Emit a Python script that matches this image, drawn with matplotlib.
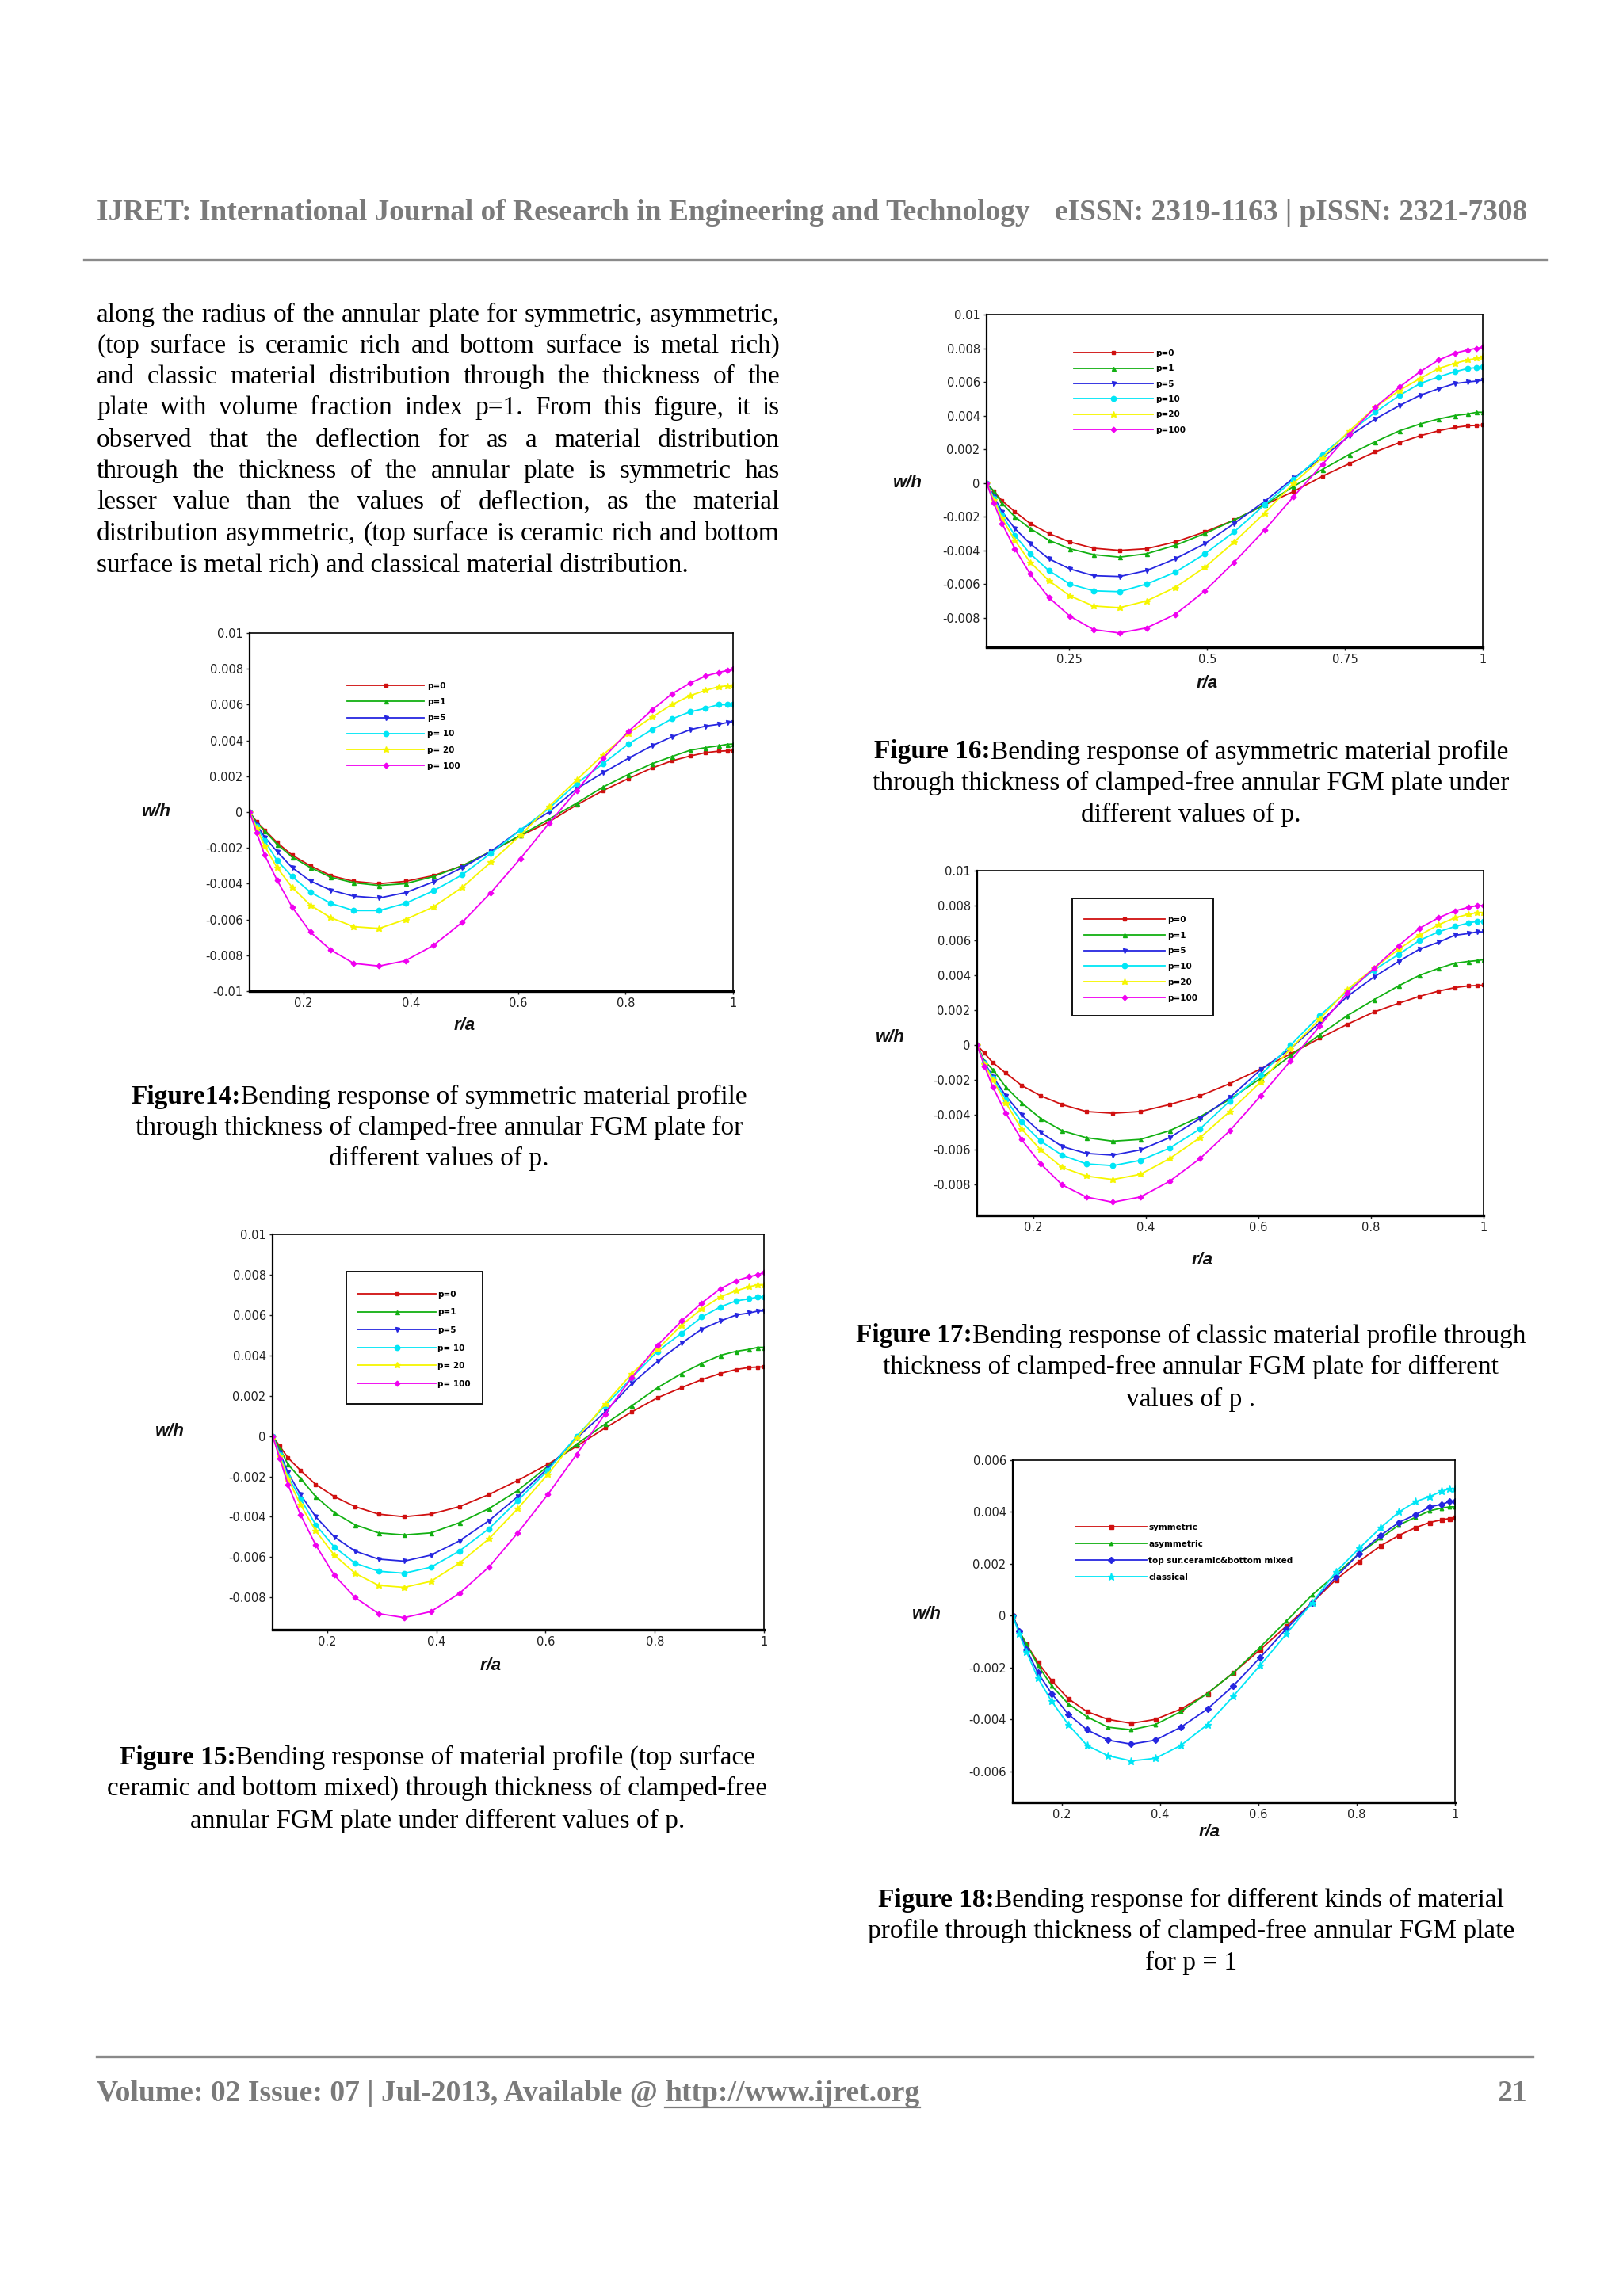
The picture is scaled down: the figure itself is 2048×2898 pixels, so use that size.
import numpy as np
import matplotlib
matplotlib.use("Agg")
import matplotlib.pyplot as plt
from matplotlib.lines import Line2D
from matplotlib.patches import Rectangle

# ---------------------------------------------------------------- data
# radial positions r/a of the plotted points
R_A = [0.1, 0.113, 0.128, 0.151, 0.179, 0.213, 0.251, 0.294, 0.341, 0.390, 0.442, 0.496,
       0.549, 0.604, 0.657, 0.709, 0.758, 0.805, 0.849, 0.886, 0.920, 0.949, 0.973, 0.989, 1.0]
WH_UNIT = 1e-3  # the w/h values below are written in units of 1e-3

# Figure 14 : symmetric profile
F14_P0 = [0, -0.54, -1.0, -1.7, -2.4, -3.0, -3.55, -3.87, -4.0, -3.87, -3.55, -3.0, -2.2, -1.33, -0.55, 0.4, 1.2, 1.87, 2.46, 2.86, 3.13, 3.32, 3.4, 3.42, 3.45]
F14_P1 = [0, -0.6, -1.05, -1.8, -2.5, -3.1, -3.64, -3.95, -4.1, -4.0, -3.6, -3.0, -2.2, -1.3, -0.4, 0.5, 1.4, 2.1, 2.7, 3.1, 3.45, 3.6, 3.7, 3.78, 3.8]
F14_P5 = [0, -0.7, -1.4, -2.2, -3.1, -3.85, -4.36, -4.7, -4.8, -4.5, -3.9, -3.1, -2.2, -1.0, 0.0, 1.3, 2.2, 3.0, 3.7, 4.2, 4.6, 4.8, 4.9, 5.0, 5.0]
F14_P10 = [0, -0.8, -1.6, -2.7, -3.6, -4.47, -5.1, -5.5, -5.5, -5.1, -4.4, -3.5, -2.3, -1.0, 0.2, 1.6, 2.7, 3.8, 4.6, 5.2, 5.6, 5.8, 6.0, 6.0, 6.0]
F14_P20 = [0, -0.9, -1.9, -3.1, -4.2, -5.2, -5.9, -6.4, -6.5, -6.0, -5.3, -4.2, -2.8, -1.3, 0.3, 1.8, 3.2, 4.4, 5.3, 6.0, 6.5, 6.8, 7.0, 7.05, 7.1]
F14_P100 = [0, -1.15, -2.4, -3.8, -5.3, -6.7, -7.7, -8.45, -8.6, -8.3, -7.45, -6.15, -4.5, -2.6, -0.64, 1.2, 3.0, 4.5, 5.7, 6.6, 7.2, 7.6, 7.8, 7.9, 8.0]

# Figure 16 : asymmetric profile
F16_P0 = [0, -0.5, -1.05, -1.7, -2.4, -3.0, -3.5, -3.87, -4.0, -3.9, -3.5, -2.9, -2.2, -1.3, -0.5, 0.4, 1.15, 1.85, 2.4, 2.8, 3.1, 3.3, 3.4, 3.42, 3.45]
F16_P1 = [0, -0.5, -1.2, -2.0, -2.7, -3.4, -3.9, -4.25, -4.4, -4.2, -3.7, -3.0, -2.2, -1.3, -0.2, 0.8, 1.7, 2.45, 3.1, 3.5, 3.8, 4.0, 4.1, 4.2, 4.2]
F16_P5 = [0, -0.8, -1.7, -2.7, -3.6, -4.5, -5.1, -5.5, -5.55, -5.2, -4.5, -3.6, -2.4, -1.1, 0.3, 1.5, 2.8, 3.8, 4.6, 5.2, 5.6, 5.9, 6.0, 6.05, 6.1]
F16_P10 = [0, -0.9, -1.9, -3.1, -4.2, -5.2, -6.0, -6.4, -6.45, -6.0, -5.3, -4.2, -2.9, -1.3, 0.2, 1.7, 3.0, 4.2, 5.2, 5.9, 6.3, 6.6, 6.8, 6.85, 6.9]
F16_P20 = [0, -1.0, -2.1, -3.4, -4.7, -5.8, -6.7, -7.3, -7.4, -7.0, -6.2, -5.0, -3.5, -1.8, 0.0, 1.5, 3.1, 4.5, 5.5, 6.2, 6.8, 7.1, 7.3, 7.4, 7.5]
F16_P100 = [0, -1.2, -2.4, -3.9, -5.4, -6.8, -7.9, -8.7, -8.9, -8.6, -7.8, -6.4, -4.7, -2.8, -0.8, 1.1, 2.9, 4.5, 5.7, 6.6, 7.3, 7.7, 7.9, 8.0, 8.05]

# Figure 15 : top surface ceramic, bottom mixed
F15_P0 = [0, -0.5, -1.07, -1.7, -2.4, -3.0, -3.5, -3.87, -4.0, -3.87, -3.5, -2.9, -2.2, -1.4, -0.5, 0.4, 1.2, 1.9, 2.4, 2.8, 3.1, 3.3, 3.4, 3.42, 3.43]
F15_P1 = [0, -0.6, -1.4, -2.1, -3.0, -3.8, -4.4, -4.8, -4.9, -4.8, -4.3, -3.6, -2.7, -1.5, -0.4, 0.6, 1.5, 2.4, 3.1, 3.6, 4.0, 4.2, 4.3, 4.4, 4.4]
F15_P5 = [0, -0.8, -1.8, -2.9, -4.0, -5.0, -5.7, -6.1, -6.2, -5.9, -5.2, -4.2, -3.0, -1.6, -0.1, 1.2, 2.6, 3.7, 4.6, 5.3, 5.7, 6.0, 6.1, 6.2, 6.2]
F15_P10 = [0, -0.9, -2.0, -3.1, -4.4, -5.5, -6.3, -6.7, -6.8, -6.5, -5.7, -4.6, -3.2, -1.7, 0.0, 1.5, 2.9, 4.2, 5.1, 5.9, 6.4, 6.7, 6.8, 6.9, 6.9]
F15_P20 = [0, -1.0, -2.1, -3.4, -4.7, -5.9, -6.8, -7.4, -7.5, -7.2, -6.3, -5.1, -3.6, -1.9, -0.1, 1.6, 3.1, 4.3, 5.5, 6.3, 6.9, 7.2, 7.4, 7.5, 7.5]
F15_P100 = [0, -1.1, -2.4, -3.9, -5.4, -6.9, -8.0, -8.8, -9.0, -8.7, -7.8, -6.5, -4.8, -2.9, -0.9, 1.1, 2.9, 4.5, 5.7, 6.6, 7.3, 7.7, 7.9, 8.0, 8.1]

# Figure 17 : classic profile
F17_P0 = [0, -0.46, -1.0, -1.6, -2.3, -2.9, -3.4, -3.8, -3.9, -3.8, -3.4, -2.9, -2.2, -1.36, -0.5, 0.4, 1.2, 1.9, 2.4, 2.8, 3.1, 3.3, 3.4, 3.42, 3.45]
F17_P1 = [0, -0.9, -1.4, -2.4, -3.3, -4.2, -4.9, -5.3, -5.5, -5.4, -4.9, -4.1, -3.1, -1.9, -0.6, 0.6, 1.7, 2.6, 3.4, 4.0, 4.4, 4.7, 4.8, 4.85, 4.9]
F17_P5 = [0, -1.0, -1.8, -2.9, -4.0, -5.0, -5.8, -6.2, -6.3, -6.0, -5.3, -4.2, -3.0, -1.4, -0.2, 1.3, 2.8, 3.9, 4.8, 5.5, 5.9, 6.3, 6.4, 6.5, 6.5]
F17_P10 = [0, -1.05, -1.9, -3.1, -4.4, -5.5, -6.3, -6.8, -6.9, -6.6, -5.9, -4.8, -3.2, -1.7, 0.0, 1.7, 3.1, 4.3, 5.2, 6.0, 6.5, 6.8, 7.0, 7.1, 7.1]
F17_P20 = [0, -1.1, -2.0, -3.3, -4.8, -6.0, -7.0, -7.5, -7.7, -7.4, -6.5, -5.3, -3.8, -2.1, -0.2, 1.5, 3.2, 4.4, 5.5, 6.3, 6.9, 7.3, 7.5, 7.6, 7.6]
F17_P100 = [0, -1.2, -2.4, -3.9, -5.4, -6.8, -8.0, -8.7, -9.0, -8.7, -7.8, -6.5, -4.9, -2.9, -0.9, 1.1, 3.0, 4.4, 5.7, 6.7, 7.3, 7.7, 7.9, 8.0, 8.0]

# Figure 18 : different profiles, p = 1
F18_SYM = [0, -0.6, -1.1, -1.8, -2.5, -3.2, -3.7, -4.0, -4.15, -4.0, -3.6, -3.0, -2.2, -1.3, -0.4, 0.5, 1.4, 2.1, 2.7, 3.1, 3.4, 3.6, 3.7, 3.75, 3.8]
F18_ASYM = [0, -0.6, -1.1, -1.9, -2.7, -3.4, -3.9, -4.3, -4.4, -4.2, -3.7, -3.0, -2.2, -1.2, -0.2, 0.8, 1.6, 2.4, 3.0, 3.5, 3.8, 4.05, 4.15, 4.2, 4.2]
F18_TOP = [0, -0.6, -1.3, -2.2, -3.0, -3.8, -4.4, -4.8, -4.95, -4.8, -4.3, -3.6, -2.7, -1.6, -0.5, 0.5, 1.5, 2.4, 3.1, 3.6, 3.9, 4.2, 4.3, 4.4, 4.4]
F18_CLASS = [0, -0.7, -1.4, -2.4, -3.3, -4.2, -5.0, -5.4, -5.6, -5.5, -5.0, -4.2, -3.1, -1.9, -0.7, 0.5, 1.7, 2.6, 3.4, 4.0, 4.4, 4.6, 4.8, 4.9, 4.9]

LABELS_A = ["p=0", "p=1", "p=5", "p= 10", "p= 20", "p= 100"]
LABELS_B = ["p=0", "p=1", "p=5", "p=10", "p=20", "p=100"]
LABELS_18 = ["symmetric", "asymmetric", "top sur.ceramic&bottom mixed", "classical"]

YT_10 = [-0.01, -0.008, -0.006, -0.004, -0.002, 0, 0.002, 0.004, 0.006, 0.008, 0.01]
YL_10 = ["-0.01", "-0.008", "-0.006", "-0.004", "-0.002", "0", "0.002", "0.004", "0.006", "0.008", "0.01"]
YT_8 = YT_10[1:]
YL_8 = YL_10[1:]
YT_6 = [-0.006, -0.004, -0.002, 0, 0.002, 0.004, 0.006]
YL_6 = ["-0.006", "-0.004", "-0.002", "0", "0.002", "0.004", "0.006"]
XT_A = [0.2, 0.4, 0.6, 0.8, 1.0]
XL_A = ["0.2", "0.4", "0.6", "0.8", "1"]
XT_B = [0.25, 0.5, 0.75, 1.0]
XL_B = ["0.25", "0.5", "0.75", "1"]

# ---------------------------------------------------------------- page
W, H, DPI = 2048, 2898, 100
fig = plt.figure(figsize=(W / DPI, H / DPI), dpi=DPI)
fig.patch.set_facecolor("white")
renderer = fig.canvas.get_renderer()

SERIF = ["Liberation Serif", "DejaVu Serif"]
GRAY = "#7a7a7a"

STY6 = [("#D01010", "s", 3.4), ("#12B012", "^", 3.6), ("#2626E0", "v", 3.6),
        ("#00E6F6", "o", 4.6), ("#F6F600", "*", 6.2), ("#F000F0", "D", 3.4)]
STY4 = [("#D01010", "s", 3.6), ("#12B012", "^", 3.2), ("#2626E0", "D", 4.4), ("#00E6F6", "*", 6.8)]


def fxp(px):
    return px / W


def fyp(py):
    return 1 - py / H


CHARTS = [
    dict(box=(315, 799, 925, 1251), series=[F14_P0, F14_P1, F14_P5, F14_P10, F14_P20, F14_P100],
         labels=LABELS_A, sty=STY6, ylim=(-0.01, 0.01), yt=YT_10, yl=YL_10, xt=XT_A, xl=XL_A,
         leg=dict(x=438, y=866, pitch=20.6, hl=97, tp=4), frame=None, wh=(118, 0), ra=44),
    dict(box=(1245, 397, 1871, 817), series=[F16_P0, F16_P1, F16_P5, F16_P10, F16_P20, F16_P100],
         labels=LABELS_B, sty=STY6, ylim=(-0.00975, 0.01), yt=YT_8, yl=YL_8, xt=XT_B, xl=XL_B,
         leg=dict(x=1355, y=446, pitch=19.8, hl=100, tp=3), frame=None, wh=(100, 0), ra=45),
    dict(box=(344, 1558, 964, 2057), series=[F15_P0, F15_P1, F15_P5, F15_P10, F15_P20, F15_P100],
         labels=LABELS_A, sty=STY6, ylim=(-0.0096, 0.01), yt=YT_8, yl=YL_8, xt=XT_A, xl=XL_A,
         leg=dict(x=451, y=1634, pitch=23, hl=99, tp=2), frame=(437, 1605, 609, 1772), wh=(130, 6), ra=46),
    dict(box=(1233, 1099, 1872, 1534), series=[F17_P0, F17_P1, F17_P5, F17_P10, F17_P20, F17_P100],
         labels=LABELS_B, sty=STY6, ylim=(-0.00975, 0.01), yt=YT_8, yl=YL_8, xt=XT_A, xl=XL_A,
         leg=dict(x=1368, y=1161, pitch=20.2, hl=102, tp=3), frame=(1353, 1134, 1531, 1282), wh=(110, 10), ra=57),
    dict(box=(1278, 1843, 1836, 2275), series=[F18_SYM, F18_ASYM, F18_TOP, F18_CLASS],
         labels=LABELS_18, sty=STY4, ylim=(-0.0072, 0.006), yt=YT_6, yl=YL_6, xt=XT_A, xl=XL_A,
         leg=dict(x=1357, y=1928, pitch=21.5, hl=90, tp=2), frame=None, wh=(109, 2), ra=38),
]

LEG_FS = 7.5
LEG_FS_PX = LEG_FS * DPI / 72.0

for ch in CHARTS:
    l, t, r, b = ch["box"]
    axw, axh = r - l, b - t
    ax = fig.add_axes([l / W, 1 - b / H, axw / W, axh / H])
    for ys, lab, (c, m, ms) in zip(ch["series"], ch["labels"], ch["sty"]):
        ax.plot(R_A, np.array(ys) * WH_UNIT, color=c, lw=1.3, marker=m, ms=ms,
                mfc=c, mec=c, label=lab)
    ax.set_xlim(0.1, 1.0)
    ax.set_ylim(*ch["ylim"])
    ax.set_yticks(ch["yt"])
    ax.set_yticklabels(ch["yl"])
    ax.set_xticks(ch["xt"])
    ax.set_xticklabels(ch["xl"])
    ax.tick_params(direction="out", length=3, width=1, labelsize=10.5, colors="#222222", pad=3)
    for s in ("top", "right"):
        ax.spines[s].set_linewidth(1.2)
    ax.spines["left"].set_linewidth(1.6)
    ax.spines["bottom"].set_linewidth(2.4)
    # axis titles
    whx, why = ch["wh"]
    ax.annotate("w/h", xy=(0, 0), xycoords=ax.get_yaxis_transform(),
                xytext=(-whx * 72 / DPI, why * 72 / DPI), textcoords="offset points",
                ha="center", va="center", fontsize=16, fontweight="bold", fontstyle="italic",
                family=["Liberation Sans", "DejaVu Sans"], color="#111111")
    ax.annotate("r/a", xy=(0.5, 0), xycoords=ax.get_xaxis_transform(),
                xytext=(0, -ch["ra"] * 72 / DPI), textcoords="offset points",
                ha="center", va="center", fontsize=16, fontweight="bold", fontstyle="italic",
                family=["Liberation Sans", "DejaVu Sans"], color="#111111")
    # legend
    lg = ch["leg"]
    text_h = LEG_FS_PX * 1.0
    ls = max(0.05, (lg["pitch"] - text_h) / LEG_FS_PX)
    anchor = ((lg["x"] - l) / axw, 1 - (lg["y"] - text_h / 2 - t) / axh)
    ax.legend(loc="upper left", bbox_to_anchor=anchor, frameon=False, borderpad=0,
              borderaxespad=0, numpoints=1, handlelength=lg["hl"] / LEG_FS_PX,
              handletextpad=lg["tp"] / LEG_FS_PX, labelspacing=ls,
              prop=dict(family="DejaVu Sans", weight="bold", size=LEG_FS))
    if ch["frame"] is not None:
        fl, ft, fr, fb = ch["frame"]
        ax.add_patch(Rectangle(((fl - l) / axw, 1 - (fb - t) / axh), (fr - fl) / axw, (fb - ft) / axh,
                               transform=ax.transAxes, fill=False, ec="#111111", lw=1.4,
                               clip_on=False, zorder=5))

# ---------------------------------------------------------------- text helpers


def text_width(s, size, **kw):
    tt = fig.text(0, 0, s, fontsize=size, **kw)
    w = tt.get_window_extent(renderer=renderer).width
    tt.remove()
    return w


def fit_size(s, target_px, **kw):
    return 20 * target_px / text_width(s, 20, **kw)


# header
HEAD_L = "IJRET: International Journal of Research in Engineering and Technology"
HEAD_R = "eISSN: 2319-1163 | pISSN: 2321-7308"
hs = fit_size(HEAD_L, 1173, family=SERIF, weight="bold")
fig.text(fxp(122), fyp(269), HEAD_L, fontsize=hs, family=SERIF, weight="bold", color=GRAY,
         ha="left", va="center")
fig.text(fxp(1927), fyp(269), HEAD_R, fontsize=hs, family=SERIF, weight="bold", color=GRAY,
         ha="right", va="center")
fig.add_artist(Line2D([fxp(106), fxp(1951)], [fyp(328), fyp(328)], color="#8a8a8a", lw=2.4,
                      transform=fig.transFigure))

# footer
FOOT_A = "Volume: 02 Issue: 07 | Jul-2013, Available @ "
FOOT_URL = "http://www.ijret.org"
fs_foot = fit_size(FOOT_A + FOOT_URL, 1038, family=SERIF, weight="bold")
fig.add_artist(Line2D([fxp(122), fxp(1934)], [fyp(2596), fyp(2596)], color="#8a8a8a", lw=2.4,
                      transform=fig.transFigure))
wa = text_width(FOOT_A, fs_foot, family=SERIF, weight="bold")
fig.text(fxp(122), fyp(2642), FOOT_A, fontsize=fs_foot, family=SERIF, weight="bold", color=GRAY,
         ha="left", va="center")
wu = text_width(FOOT_URL, fs_foot, family=SERIF, weight="bold")
fig.text(fxp(122 + wa), fyp(2642), FOOT_URL, fontsize=fs_foot, family=SERIF, weight="bold",
         color=GRAY, ha="left", va="center")
fig.add_artist(Line2D([fxp(122 + wa), fxp(122 + wa + wu)], [fyp(2660), fyp(2660)], color=GRAY,
                      lw=1.6, transform=fig.transFigure))
fig.text(fxp(1927), fyp(2642), "21", fontsize=fs_foot, family=SERIF, weight="bold", color=GRAY,
         ha="right", va="center")

# body paragraph (justified)
BODY = [
    "along the radius of the annular plate for symmetric, asymmetric,",
    "(top surface is ceramic rich and bottom surface is metal rich)",
    "and classic material distribution through the thickness of the",
    "plate with volume fraction index p=1. From this figure, it is",
    "observed that the deflection for as a material distribution",
    "through the thickness of the annular plate is symmetric has",
    "lesser value than the values of deflection, as the material",
    "distribution asymmetric, (top surface is ceramic rich and bottom",
    "surface is metal rich) and classical material distribution.",
]
BODY_Y = [398, 437, 476, 515, 556, 595, 634, 674, 713]
bs = fit_size(BODY[-1], 747, family=SERIF)
for i, (line, yy) in enumerate(zip(BODY, BODY_Y)):
    if i == len(BODY) - 1:
        fig.text(fxp(122), fyp(yy), line, fontsize=bs, family=SERIF, color="black",
                 ha="left", va="center")
        continue
    words = line.split()
    widths = [text_width(wd, bs, family=SERIF) for wd in words]
    gap = (862 - sum(widths)) / (len(words) - 1)
    xcur = 122
    for wd, wdw in zip(words, widths):
        fig.text(fxp(xcur), fyp(yy), wd, fontsize=bs, family=SERIF, color="black",
                 ha="left", va="center")
        xcur += wdw + gap

# captions
CAPTIONS = [
    (554, [1384, 1423, 1462], "Figure14:", ["Bending response of symmetric material profile",
                                             "through thickness of clamped-free annular FGM plate for",
                                             "different values of p."]),
    (1503, [949, 988, 1028], "Figure 16:", ["Bending response of asymmetric material profile",
                                             "through thickness of clamped-free annular FGM plate under",
                                             "different values of p."]),
    (1503, [1686, 1725, 1766], "Figure 17:", ["Bending response of classic material profile through",
                                               "thickness of clamped-free annular FGM plate for different",
                                               "values of p ."]),
    (552, [2218, 2257, 2298], "Figure 15:", ["Bending response of material profile (top surface",
                                              "ceramic and bottom mixed) through thickness of clamped-free",
                                              "annular FGM plate under different values of p."]),
    (1503, [2398, 2437, 2477], "Figure 18:", ["Bending response for different kinds of material",
                                               "profile through thickness of clamped-free annular FGM plate",
                                               "for p = 1"]),
]
for cx, ys, bold, lines in CAPTIONS:
    for j, (line, yy) in enumerate(zip(lines, ys)):
        if j == 0:
            wb = text_width(bold, bs, family=SERIF, weight="bold")
            wr = text_width(line, bs, family=SERIF)
            x0 = cx - (wb + wr) / 2
            fig.text(fxp(x0), fyp(yy), bold, fontsize=bs, family=SERIF, weight="bold",
                     ha="left", va="center")
            fig.text(fxp(x0 + wb), fyp(yy), line, fontsize=bs, family=SERIF,
                     ha="left", va="center")
        else:
            fig.text(fxp(cx), fyp(yy), line, fontsize=bs, family=SERIF, ha="center", va="center")

fig.savefig("out.png", dpi=DPI, facecolor="white")
